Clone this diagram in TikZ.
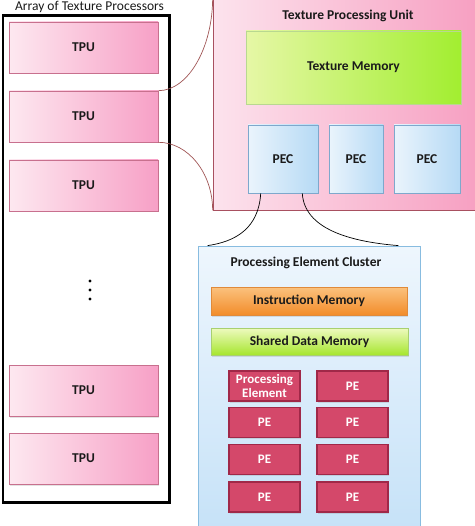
\documentclass[tikz,border=0pt]{standalone}
\usepackage{fontspec}
\setmainfont{Carlito}
\usetikzlibrary{shadows}
\definecolor{tpuL}{HTML}{FDE8F0}
\definecolor{tpuR}{HTML}{F7A0C6}
\definecolor{tpuB}{HTML}{C8708E}
\definecolor{unitL}{HTML}{FCE3ED}
\definecolor{unitR}{HTML}{F7A0C2}
\definecolor{unitB}{HTML}{A85060}
\definecolor{texL}{HTML}{E6F7A6}
\definecolor{texR}{HTML}{A2EE30}
\definecolor{texB}{HTML}{B8D890}
\definecolor{pecL}{HTML}{EAF4FC}
\definecolor{pecR}{HTML}{B6DAF5}
\definecolor{pecB}{HTML}{7EA8CC}
\definecolor{cluT}{HTML}{EEF6FD}
\definecolor{cluB}{HTML}{C6E2F8}
\definecolor{cluD}{HTML}{88BCE0}
\definecolor{insT}{HTML}{FBC27E}
\definecolor{insB}{HTML}{F28C2A}
\definecolor{insD}{HTML}{E08A3A}
\definecolor{shT}{HTML}{EEFABF}
\definecolor{shB}{HTML}{A6E62E}
\definecolor{shD}{HTML}{A8D070}
\definecolor{peF}{HTML}{D4486A}
\definecolor{peD}{HTML}{A02848}
\definecolor{txt}{HTML}{1A1A1A}
\definecolor{link}{HTML}{A05555}
\tikzset{
  box/.style={rectangle, inner sep=0pt, text=txt, font=\fontsize{13.5}{15}\selectfont\bfseries,
    drop shadow={opacity=0.22, shadow xshift=1pt, shadow yshift=-1.5pt}},
  tpubox/.style={box, draw=tpuB, line width=0.6pt, left color=tpuL, right color=tpuR,
    minimum width=149pt, minimum height=51pt},
  unitbox/.style={rectangle, inner sep=0pt, draw=unitB, line width=0.7pt, left color=unitL, right color=unitR},
  texbox/.style={box, draw=texB, line width=0.5pt, left color=texL, right color=texR},
  pecbox/.style={box, draw=pecB, line width=0.6pt, left color=pecL, right color=pecR, minimum height=68pt},
  clubox/.style={rectangle, inner sep=0pt, draw=cluD, line width=0.8pt, top color=cluT, bottom color=cluB},
  insbox/.style={box, draw=insD, line width=0.5pt, top color=insT, bottom color=insB},
  shbox/.style={box, draw=shD, line width=0.5pt, top color=shT, bottom color=shB},
  pebox/.style={box, draw=peD, line width=1.3pt, fill=peF, text=white, align=center,
    minimum width=71pt, minimum height=30pt, font=\fontsize{13}{14.5}\selectfont\bfseries},
  ttl/.style={text=txt, font=\fontsize{13.5}{15}\selectfont\bfseries},
  curve/.style={draw=link, line width=0.7pt},
  pecurve/.style={draw=black, line width=0.7pt},
  dot/.style={circle, fill=black, inner sep=0pt, minimum size=3.2pt}
}
\begin{document}
\begin{tikzpicture}[x=1pt, y=-1pt]
\useasboundingbox (0,0) rectangle (474,526);
% array of texture processors
\node[draw=black, line width=2.7pt, minimum width=166.5pt, minimum height=486.5pt, anchor=north west, inner sep=0pt] (array) at (1.5,14.5) {};
\node[anchor=base, text=txt, font=\fontsize{13.5}{15}\selectfont] (arrayttl) at (89.5,10.5) {Array of Texture Processors};
\node[tpubox] (t1) at (83.5,47.5) {TPU};
\node[tpubox] (t2) at (83.5,116.5) {TPU};
\node[tpubox] (t3) at (83.5,185.5) {TPU};
\node[tpubox] (t4) at (83.5,390.5) {TPU};
\node[tpubox] (t5) at (83.5,458.5) {TPU};
\node[dot] (d1) at (90,281) {};
\node[dot] (d2) at (90,290) {};
\node[dot] (d3) at (90,299) {};
% texture processing unit
\node[unitbox, minimum width=263pt, minimum height=212pt] (unit) at (344.5,104) {};
\node[ttl] (unitttl) at (348,16) {Texture Processing Unit};
\node[texbox, minimum width=215pt, minimum height=73pt] (tex) at (353.5,67.5) {Texture Memory};
\node[pecbox, minimum width=70pt] (pec1) at (283,159) {PEC};
\node[pecbox, minimum width=54pt] (pec2) at (356,159) {PEC};
\node[pecbox, minimum width=66pt] (pec3) at (427,159) {PEC};
\draw[curve] (t2.north east) .. controls +(30,0) and +(0,50) .. (unit.north west);
\draw[curve] (t2.south east) .. controls +(30,0) and +(0,-37) .. (unit.south west);
% processing element cluster
\node[clubox, minimum width=222pt, minimum height=284pt] (clu) at (309,388) {};
\node[ttl] (cluttl) at (306,263) {Processing Element Cluster};
\node[insbox, minimum width=196pt, minimum height=28pt] (ins) at (309,301) {Instruction Memory};
\node[shbox, minimum width=197pt, minimum height=27pt] (sh) at (309.5,341.5) {Shared Data Memory};
\node[pebox] (pe11) at (264.5,386) {Processing\\[-1pt]Element};
\node[pebox] (pe12) at (352.5,386) {PE};
\node[pebox] (pe21) at (264.5,422.5) {PE};
\node[pebox] (pe22) at (352.5,422.5) {PE};
\node[pebox] (pe31) at (264.5,459.5) {PE};
\node[pebox] (pe32) at (352.5,459.5) {PE};
\node[pebox] (pe41) at (264.5,497) {PE};
\node[pebox] (pe42) at (352.5,497) {PE};
\draw[pecurve] ([xshift=13pt]pec1.south west) .. controls +(-2,35) and +(28,-4) .. ([xshift=10pt]clu.north west);
\draw[pecurve] ([xshift=-16pt]pec1.south east) .. controls +(2,35) and +(-50,-4) .. ([xshift=-22pt]clu.north east);
\end{tikzpicture}
\end{document}
